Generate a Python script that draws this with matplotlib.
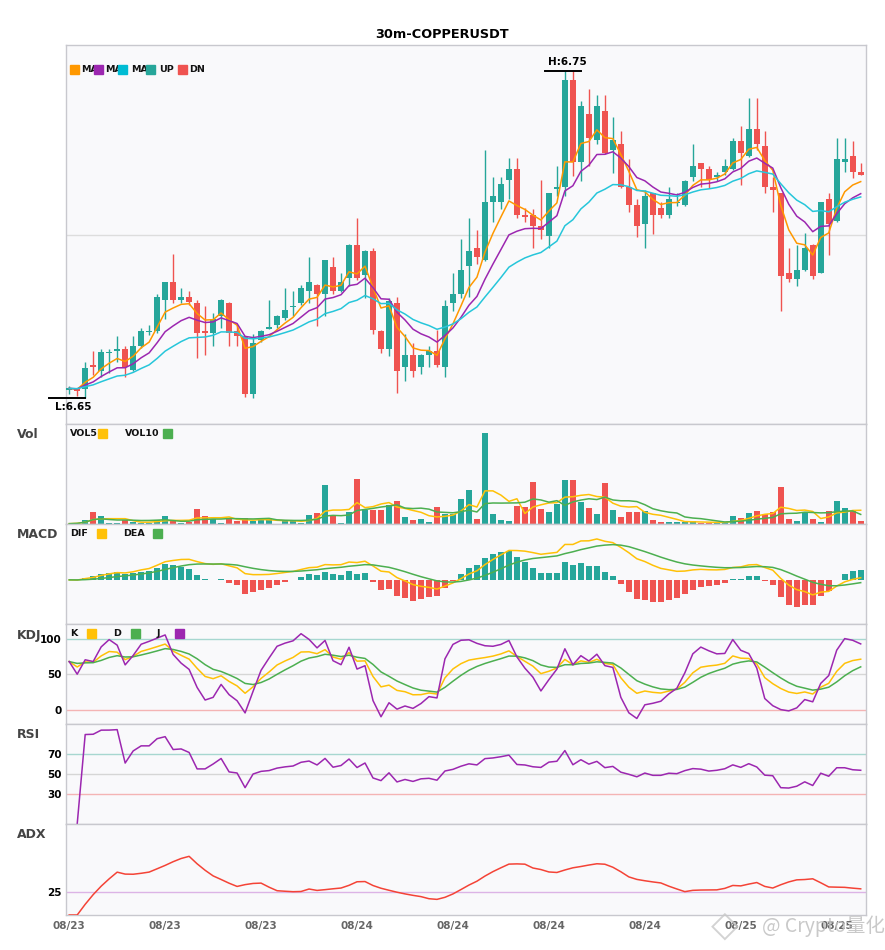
import numpy as np
import pandas as pd
import matplotlib
matplotlib.use("Agg")
import matplotlib.pyplot as plt
from matplotlib.patches import Rectangle
from matplotlib.transforms import Bbox, TransformedBbox

# ---------------- data ----------------
opens = [6.6525, 6.6528, 6.6529, 6.6602, 6.6584, 6.6638, 6.6643, 6.6650, 6.6587, 6.6660,
         6.6703, 6.6706, 6.6801, 6.6855, 6.6801, 6.6809, 6.6791, 6.6706, 6.6699, 6.6752,
         6.6791, 6.6706, 6.6689, 6.6512, 6.6678, 6.6713, 6.6724, 6.6744, 6.6780, 6.6791,
         6.6829, 6.6847, 6.6819, 6.6901, 6.6829, 6.6867, 6.6969, 6.6877, 6.6951, 6.6706,
         6.6651, 6.6791, 6.6594, 6.6633, 6.6594, 6.6633, 6.6643, 6.6594, 6.6791, 6.6819,
         6.6903, 6.6959, 6.6921, 6.7099, 6.7099, 6.7166, 6.7201, 6.7061, 6.7061, 6.7025,
         6.6996, 6.7139, 6.7147, 6.7474, 6.7221, 6.7370, 6.7288, 6.7379, 6.7259, 6.7278,
         6.7147, 6.7091, 6.7033, 6.7127, 6.7083, 6.7061, 6.7096, 6.7091, 6.7176, 6.7219,
         6.7201, 6.7175, 6.7191, 6.7201, 6.7287, 6.7241, 6.7324, 6.7270, 6.7147, 6.7127,
         6.6884, 6.6865, 6.6892, 6.6969, 6.6884, 6.7109, 6.7042, 6.7221, 6.7241, 6.7191]
highs = [6.6538, 6.6530, 6.6612, 6.6643, 6.6650, 6.6650, 6.6689, 6.6660, 6.6689, 6.6714,
         6.6724, 6.6819, 6.6855, 6.6941, 6.6836, 6.6829, 6.6801, 6.6782, 6.6760, 6.6803,
         6.6793, 6.6724, 6.6690, 6.6697, 6.6709, 6.6801, 6.6755, 6.6836, 6.6829, 6.6847,
         6.6931, 6.6848, 6.6922, 6.6931, 6.6882, 6.6970, 6.7050, 6.6952, 6.6959, 6.6707,
         6.6806, 6.6809, 6.6697, 6.6668, 6.6634, 6.6658, 6.6707, 6.6801, 6.6882, 6.6986,
         6.7050, 6.7015, 6.7259, 6.7176, 6.7176, 6.7234, 6.7234, 6.7081, 6.7078, 6.7166,
         6.7128, 6.7211, 6.7500, 6.7499, 6.7409, 6.7446, 6.7428, 6.7428, 6.7361, 6.7316,
         6.7232, 6.7109, 6.7137, 6.7128, 6.7099, 6.7147, 6.7127, 6.7166, 6.7278, 6.7220,
         6.7211, 6.7191, 6.7232, 6.7295, 6.7333, 6.7417, 6.7417, 6.7316, 6.7175, 6.7128,
         6.6959, 6.6969, 6.7005, 6.6970, 6.7100, 6.7127, 6.7295, 6.7295, 6.7287, 6.7219]
lows = [6.6513, 6.6507, 6.6500, 6.6571, 6.6566, 6.6576, 6.6612, 6.6564, 6.6582, 6.6653,
        6.6694, 6.6699, 6.6742, 6.6791, 6.6791, 6.6785, 6.6622, 6.6633, 6.6658, 6.6714,
        6.6658, 6.6658, 6.6503, 6.6502, 6.6673, 6.6711, 6.6714, 6.6740, 6.6750, 6.6785,
        6.6791, 6.6721, 6.6750, 6.6819, 6.6826, 6.6842, 6.6862, 6.6806, 6.6697, 6.6638,
        6.6629, 6.6517, 6.6554, 6.6564, 6.6573, 6.6594, 6.6594, 6.6564, 6.6768, 6.6806,
        6.6809, 6.6911, 6.6920, 6.7040, 6.7078, 6.7109, 6.7050, 6.7040, 6.6959, 6.6986,
        6.6959, 6.7117, 6.7117, 6.7178, 6.7163, 6.7209, 6.7278, 6.7247, 6.7190, 6.7142,
        6.7068, 6.6994, 6.6959, 6.7003, 6.7050, 6.7050, 6.7089, 6.7089, 6.7163, 6.7147,
        6.7144, 6.7163, 6.7183, 6.7198, 6.7152, 6.7239, 6.7259, 6.7127, 6.7068, 6.6768,
        6.6854, 6.6844, 6.6890, 6.6864, 6.6882, 6.6938, 6.7040, 6.7191, 6.7173, 6.7181]
closes = [6.6530, 6.6521, 6.6592, 6.6594, 6.6641, 6.6642, 6.6650, 6.6594, 6.6660, 6.6706,
          6.6706, 6.6809, 6.6855, 6.6801, 6.6809, 6.6793, 6.6699, 6.6699, 6.6742, 6.6801,
          6.6699, 6.6689, 6.6512, 6.6668, 6.6706, 6.6717, 6.6752, 6.6770, 6.6782, 6.6836,
          6.6855, 6.6819, 6.6921, 6.6829, 6.6855, 6.6969, 6.6867, 6.6951, 6.6707, 6.6651,
          6.6796, 6.6584, 6.6633, 6.6584, 6.6633, 6.6643, 6.6602, 6.6782, 6.6819, 6.6892,
          6.6951, 6.6933, 6.7099, 6.7119, 6.7155, 6.7201, 6.7061, 6.7053, 6.7025, 6.7015,
          6.7127, 6.7147, 6.7474, 6.7221, 6.7392, 6.7297, 6.7392, 6.7249, 6.7288, 6.7147,
          6.7091, 6.7025, 6.7119, 6.7061, 6.7061, 6.7109, 6.7099, 6.7165, 6.7211, 6.7201,
          6.7168, 6.7183, 6.7211, 6.7287, 6.7251, 6.7324, 6.7278, 6.7147, 6.7137, 6.6875,
          6.6865, 6.6892, 6.6959, 6.6875, 6.7099, 6.7033, 6.7232, 6.7232, 6.7193, 6.7183]
volumes = [1, 3, 12, 36, 25, 3, 3, 12, 6, 3,
           3, 12, 24, 12, 3, 6, 45, 24, 15, 3,
           18, 9, 18, 9, 12, 15, 1, 12, 9, 3,
           27, 33, 117, 27, 3, 36, 135, 42, 42, 42,
           57, 69, 21, 12, 15, 6, 51, 30, 30, 75,
           102, 15, 270, 30, 12, 9, 54, 51, 126, 45,
           36, 60, 132, 132, 66, 48, 30, 123, 42, 21,
           36, 36, 39, 12, 6, 6, 6, 6, 9, 3,
           3, 3, 6, 24, 18, 33, 39, 30, 36, 111,
           15, 9, 36, 15, 6, 39, 69, 48, 39, 9]
tick_positions = [0, 12, 24, 36, 48, 60, 72, 84, 96]
tick_labels = ["08/23", "08/23", "08/23", "08/24", "08/24", "08/24", "08/24", "08/25", "08/25"]
title = "30m-COPPERUSDT"

# ---------------- indicators derived from the read candles ----------------
o = pd.Series(opens); h = pd.Series(highs); l = pd.Series(lows)
c = pd.Series(closes); v = pd.Series(volumes, dtype=float)
n = len(c)
x = np.arange(n)

ema5 = c.ewm(span=5, adjust=False).mean()
ema10 = c.ewm(span=10, adjust=False).mean()
ema20 = c.ewm(span=20, adjust=False).mean()

vol5 = v.rolling(5, min_periods=1).mean()
vol10 = v.rolling(10, min_periods=1).mean()

dif = c.ewm(span=12, adjust=False).mean() - c.ewm(span=26, adjust=False).mean()
dea = dif.ewm(span=9, adjust=False).mean()
hist = 2 * (dif - dea)

llv = l.rolling(9, min_periods=1).min()
hhv = h.rolling(9, min_periods=1).max()
rsv = ((c - llv) / (hhv - llv) * 100).fillna(50)
kk = rsv.ewm(com=2, adjust=False).mean()
dd = kk.ewm(com=2, adjust=False).mean()
jj = 3 * kk - 2 * dd

delta = c.diff()
gain = delta.clip(lower=0)
loss = (-delta).clip(lower=0)
ag = gain.ewm(alpha=1 / 14, adjust=True).mean()
al = loss.ewm(alpha=1 / 14, adjust=True).mean()
rsi = 100 * ag / (ag + al)

pc = c.shift(1)
tr = pd.concat([h - l, (h - pc).abs(), (l - pc).abs()], axis=1).max(axis=1)
upm = h.diff(); dnm = -l.diff()
pdm = pd.Series(np.where((upm > dnm) & (upm > 0), upm, 0.0))
mdm = pd.Series(np.where((dnm > upm) & (dnm > 0), dnm, 0.0))
atr = tr.ewm(span=14, adjust=False).mean()
pdi = 100 * pdm.ewm(span=14, adjust=False).mean() / atr
mdi = 100 * mdm.ewm(span=14, adjust=False).mean() / atr
dx = (100 * (pdi - mdi).abs() / (pdi + mdi)).fillna(0)
dx.iloc[:2] = 0
adx = dx.ewm(span=14, adjust=False).mean()

# ---------------- styling ----------------
UP = "#26a69a"; DN = "#ef5350"
BG = "#f9f9fb"; SPINE = "#c8c8ce"
W, H = 885, 950
fig = plt.figure(figsize=(W / 100, H / 100), dpi=100)
fig.patch.set_facecolor("white")


def fx(px):
    return px / W


def fy(py):
    return 1 - py / H


def add_ax(top, bottom):
    ax = fig.add_axes([fx(66), fy(bottom), fx(865.5) - fx(66), (bottom - top) / H])
    ax.set_facecolor(BG)
    for s in ax.spines.values():
        s.set_color(SPINE)
        s.set_linewidth(1)
    ax.set_xlim(-0.4, 99.6)
    ax.set_xticks([])
    ax.tick_params(axis="y", length=0, pad=3, labelsize=7.5)
    return ax


colors = [UP if cc >= oo else DN for oo, cc in zip(opens, closes)]

# main
ax = add_ax(45, 424)
ax.vlines(x, l, h, colors=colors, linewidth=1.0, zorder=2)
body_b = np.minimum(o, c)
body_h = np.maximum((c - o).abs(), 0.00012)
ax.bar(x, body_h, bottom=body_b, width=0.75, color=colors, zorder=3, linewidth=0)
ax.plot(x, ema5, color="#ff9800", lw=1.1, zorder=4)
ax.plot(x, ema10, color="#9c27b0", lw=1.1, zorder=4)
ax.plot(x, ema20, color="#26c6da", lw=1.1, zorder=4)
hi = h.max(); lo = l.min(); rng = hi - lo
ax.set_ylim(lo - 0.079 * rng, hi + 0.08 * rng)
ax.set_yticks([])
ax.axhline(6.70, color="#dddddd", lw=1, zorder=1)
ih = int(h.idxmax()); il = int(l.idxmin())
ax.plot([ih - 2.5, ih + 2], [hi, hi], color="black", lw=1.4, clip_on=False, zorder=5)
ax.text(ih + 0.25, hi + 0.0012, f"H:{hi:.2f}", ha="center", va="bottom",
        fontsize=7.5, fontweight="bold", zorder=5)
ax.plot([il - 4.5, il], [lo, lo], color="black", lw=1.4, clip_on=False, zorder=5)
ax.text(il - 1.5, lo - 0.0013, f"L:{lo:.2f}", ha="center", va="top",
        fontsize=7.5, fontweight="bold", zorder=5, clip_on=False)

# volume
axv = add_ax(424, 524)
axv.bar(x, v, width=0.75, color=colors, linewidth=0, zorder=2)
axv.plot(x, vol5, color="#ffc107", lw=1.1, zorder=3)
axv.plot(x, vol10, color="#4caf50", lw=1.1, zorder=3)
axv.set_ylim(0, v.max() * 1.1)
axv.set_yticks([])

# MACD
axm = add_ax(524, 624)
hcol = [UP if hv >= 0 else DN for hv in hist]
axm.bar(x, hist, width=0.75, color=hcol, linewidth=0, zorder=2)
axm.plot(x, dif, color="#ffc107", lw=1.1, zorder=3)
axm.plot(x, dea, color="#4caf50", lw=1.1, zorder=3)
mx = max(dif.max(), dea.max(), hist.max()); mn = min(dif.min(), dea.min(), hist.min())
mr = mx - mn
axm.set_ylim(mn - 0.25 * mr, mx + 0.22 * mr)
axm.set_yticks([])

# KDJ
axk = add_ax(624, 724)
axk.axhline(100, color="#a7d7d0", lw=1, zorder=1)
axk.axhline(50, color="#d6d6d6", lw=1, zorder=1)
axk.axhline(0, color="#f4b4b4", lw=1, zorder=1)
axk.plot(x, kk, color="#ffc107", lw=1.1, zorder=3)
axk.plot(x, dd, color="#4caf50", lw=1.1, zorder=3)
axk.plot(x, jj, color="#9c27b0", lw=1.1, zorder=3)
axk.set_ylim(-20, 121)
axk.set_yticks([0, 50, 100])
axk.set_yticklabels(["0", "50", "100"], fontweight="bold", fontsize=7.5)

# RSI
axr = add_ax(724, 824)
axr.axhline(70, color="#a7d7d0", lw=1, zorder=1)
axr.axhline(50, color="#d6d6d6", lw=1, zorder=1)
axr.axhline(30, color="#f4b4b4", lw=1, zorder=1)
axr.plot(x, rsi, color="#9c27b0", lw=1.1, zorder=3)
axr.set_ylim(0, 100)
axr.set_yticks([30, 50, 70])
axr.set_yticklabels(["30", "50", "70"], fontweight="bold", fontsize=7.5)

# ADX
axa = add_ax(824, 915)
axa.axhline(25, color="#dcb4e6", lw=1, zorder=1)
axa.plot(x, adx, color="#f44336", lw=1.1, zorder=3)
axa.set_ylim(0, 100)
axa.set_yticks([25])
axa.set_yticklabels(["25"], fontweight="bold", fontsize=7.5)
axa.set_xticks(tick_positions)
axa.set_xticklabels(tick_labels, fontsize=7.5, fontweight="bold", color="#666666")
axa.tick_params(axis="x", length=0, pad=4)

# title and panel labels
fig.text(0.5, fy(34), title, ha="center", va="center", fontsize=9.3, fontweight="bold")
for lab, py in [("Vol", 435), ("MACD", 535), ("KDJ", 635), ("RSI", 735), ("ADX", 835)]:
    fig.text(fx(17), fy(py), lab, ha="left", va="center", fontsize=9,
             fontweight="bold", color="#444444")


def square(px, py, col, size=9):
    fig.add_artist(Rectangle((fx(px), fy(py + size / 2)), size / W, size / H,
                             transform=fig.transFigure, color=col, zorder=10))


def ltext(px, py, s, clip_to=None):
    t = fig.text(fx(px), fy(py), s, ha="left", va="center", fontsize=6.8,
                 fontweight="bold", color="#111111")
    t.set_zorder(9)
    if clip_to is not None:
        t.set_clip_box(TransformedBbox(Bbox([[fx(px - 2), 0], [fx(clip_to), 1]]),
                                       fig.transFigure))
        t.set_clip_on(True)


# main legend (square then label; the next square hides the label's tail)
for sx, col, tx, s, cl in [(70, "#ff9800", 81, "MA5", 94), (94, "#9c27b0", 105, "MA10", 118),
                           (118, "#00bcd4", 131, "MA20", 146), (146, UP, 159, "UP", None),
                           (178, DN, 189, "DN", None)]:
    ltext(tx, 69, s, cl)
    square(sx, 69, col)

# Vol legend
ltext(70, 433, "VOL5"); square(98, 433, "#ffc107")
ltext(125, 433, "VOL10"); square(163, 433, "#4caf50")
# MACD legend
ltext(70, 534, "DIF"); square(97, 533, "#ffc107")
ltext(123, 534, "DEA"); square(153, 533, "#4caf50")
# KDJ legend
ltext(70, 634, "K"); square(87, 633, "#ffc107")
ltext(113, 634, "D"); square(131, 633, "#4caf50")
ltext(157, 634, "J"); square(175, 633, "#9c27b0")

# watermark
fig.text(fx(725), fy(926), "\u25c7", ha="center", va="center", fontsize=26,
         color="#c8c8c8", alpha=0.8)
fig.text(fx(762), fy(926), "@ Crypto量化", ha="left", va="center", fontsize=14,
         color="#c0c0c0", alpha=0.85, family=["Noto Sans CJK SC", "DejaVu Sans"])

fig.savefig("out.png", dpi=100, facecolor="white")
